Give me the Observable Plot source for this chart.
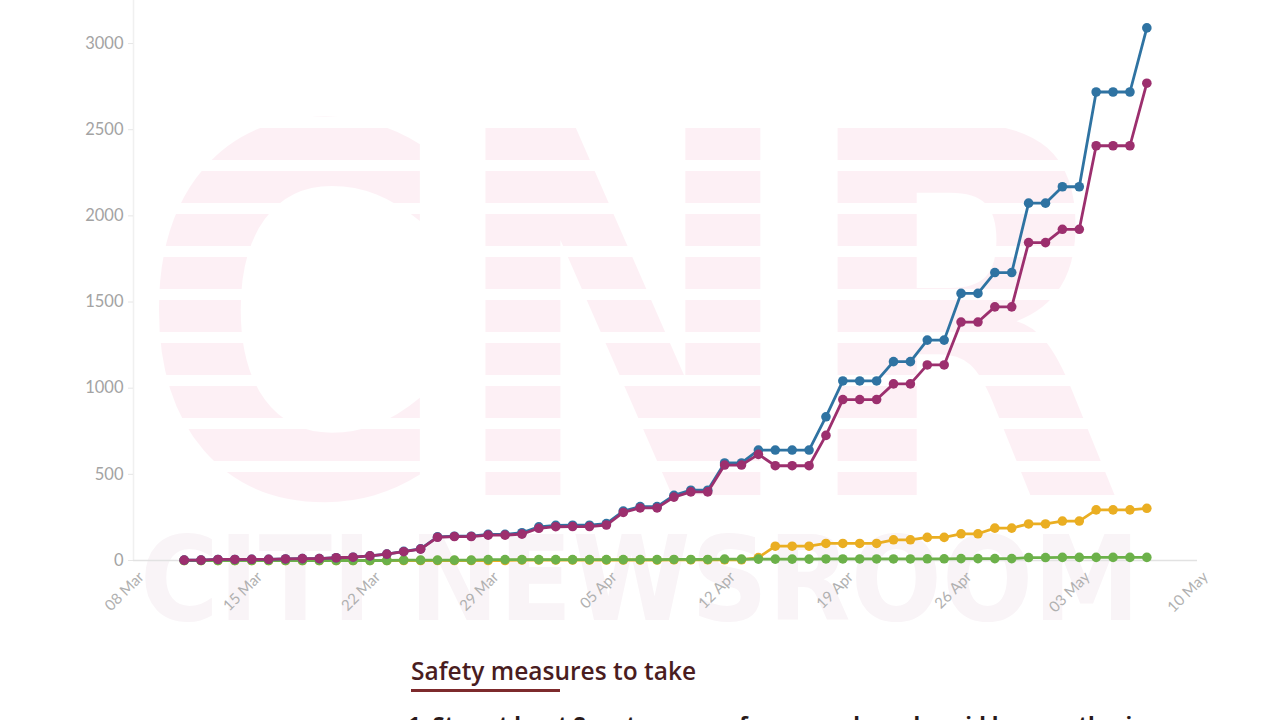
<!DOCTYPE html>
<html>
<head>
<meta charset="utf-8">
<script src="https://cdn.jsdelivr.net/npm/d3@7"></script>
<script src="https://cdn.jsdelivr.net/npm/@observablehq/plot@0.6"></script>
<style>
  html, body { margin: 0; padding: 0; background: #fff; width: 1280px; height: 720px; overflow: hidden; }
  #wrap { position: relative; width: 1280px; height: 720px; }
  #wm { position: absolute; left: 0; top: 0; z-index: 0; }
  #chart { position: absolute; left: 0; top: 0; z-index: 1; }
  #chart svg { background: transparent !important; }
  #heading { position: absolute; left: 411px; top: 654px; z-index: 2; font-family: "Open Sans", sans-serif; font-weight: 600; font-size: 24.5px; color: #4a1d1f; letter-spacing: 0px; }
  #bar { position: absolute; left: 411px; top: 689px; width: 149px; height: 3px; background: #7d2a2c; z-index: 2; }
  #line1 { position: absolute; left: 408px; top: 708px; z-index: 2; font-family: "Open Sans", sans-serif; font-weight: 700; font-size: 22px; color: #2a1a1a; white-space: nowrap; }
</style>
</head>
<body>
<div id="wrap">
  <svg id="wm" width="1280" height="720">
    <defs>
      <pattern id="stripes" patternUnits="userSpaceOnUse" width="20" height="43" y="128">
        <rect x="0" y="0" width="20" height="32" fill="#fdf0f5"></rect>
      </pattern>
    </defs>
    <text x="138" y="495" font-family="DejaVu Sans" font-weight="bold" font-size="510" textLength="985" lengthAdjust="spacingAndGlyphs" fill="url(#stripes)">CNR</text>
    <text x="140" y="620" font-family="DejaVu Sans" font-weight="bold" font-size="118" textLength="1000" lengthAdjust="spacingAndGlyphs" fill="#f9f4f7">CITI NEWSROOM</text>
  </svg>
  <div id="chart"></div>
  <div id="heading">Safety measures to take</div>
  <div id="bar"></div>
  <div id="line1">1. Stay at least 2 metres away from people and avoid large gatherings</div>
</div>
<script>
// Daily points, 11 Mar 2020 .. 7 May 2020
const startDate = new Date(Date.UTC(2020, 2, 11));
const endDate = new Date(Date.UTC(2020, 4, 8));
const dates = d3.utcDay.range(startDate, endDate);

const confirmed = [2,2,6,6,7,7,9,11,11,16,19,27,37,53,68,137,141,141,152,152,
  161,195,204,205,205,214,287,313,313,378,408,408,566,566,641,641,641,641,834,1042,
  1042,1042,1154,1154,1279,1279,1550,1550,1671,1671,2074,2074,2169,2169,2719,2719,2719,3091];

const active = [2,2,6,6,7,7,9,11,11,16,19,27,37,51,66,135,139,139,147,147,
  153,187,196,197,197,206,279,305,305,368,398,398,554,554,616,550,550,550,726,934,
  934,934,1025,1025,1135,1135,1384,1384,1472,1472,1845,1845,1922,1922,2407,2407,2407,2770];

const recovered = [0,0,0,0,0,0,0,0,0,0,0,0,0,0,0,0,0,0,0,0,
  3,3,3,3,3,3,3,3,3,4,4,4,4,4,17,83,83,83,99,99,
  99,99,120,120,134,134,155,155,188,188,212,212,229,229,294,294,294,303];

const deaths = [0,0,0,0,0,0,0,0,0,0,0,0,0,2,2,2,2,2,5,5,
  5,5,5,5,5,5,5,5,5,6,6,6,8,8,8,8,8,8,9,9,
  9,9,9,9,10,10,11,11,11,11,17,17,18,18,18,18,18,18];

const xDomain = [new Date(Date.UTC(2020, 2, 8)), new Date(Date.UTC(2020, 4, 10))];
const xTicks = d3.utcSunday.range(xDomain[0], new Date(Date.UTC(2020, 4, 11)));
const yTicks = [0, 500, 1000, 1500, 2000, 2500, 3000];

const series = [
  {name: "Recovered", values: recovered, color: "#eaae22"},
  {name: "Deaths", values: deaths, color: "#6cb14a"},
  {name: "Confirmed", values: confirmed, color: "#2f73a2"},
  {name: "Active", values: active, color: "#9c2f6e"}
];

const marks = [
  Plot.ruleX([xDomain[0]], {stroke: "#f0f0f0", strokeWidth: 1.5}),
  Plot.ruleY([0], {stroke: "#e2e2e2", strokeWidth: 1.5}),
  Plot.axisY({ticks: yTicks, tickFormat: d3.format("d"), tickSize: 5, tickPadding: 5, stroke: "#e6e6e6", fill: "#a3a3a3", label: null, fontSize: 16.5}),
  Plot.axisX({ticks: xTicks, tickFormat: d3.utcFormat("%d %b"), tickRotate: -45, tickSize: 0, tickPadding: 14, dx: 8, fill: "#b0b0b0", label: null, fontSize: 15})
];
for (const s of series) {
  const rows = dates.map((d, i) => ({date: d, value: s.values[i]}));
  marks.push(Plot.line(rows, {x: "date", y: "value", stroke: s.color, strokeWidth: 2.8}));
  marks.push(Plot.dot(rows, {x: "date", y: "value", fill: s.color, r: 4.8}));
}

const chart = Plot.plot({
  width: 1280,
  height: 640,
  marginLeft: 133,
  marginRight: 83,
  marginTop: 0,
  marginBottom: 80,
  style: {background: "transparent", fontFamily: "Lato, sans-serif"},
  x: {type: "utc", domain: xDomain},
  y: {domain: [0, 3250]},
  marks
});
document.getElementById("chart").appendChild(chart);
</script>
</body>
</html>
